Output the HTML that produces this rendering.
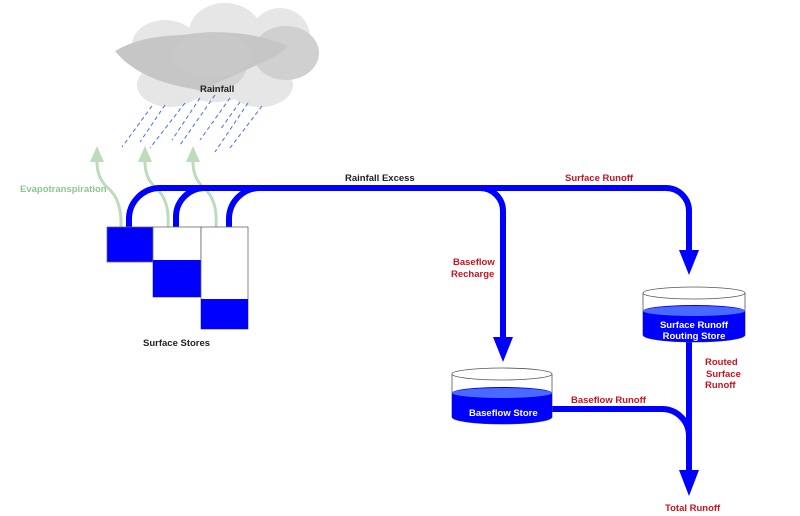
<!DOCTYPE html>
<html><head><style>body{margin:0;background:#fff}svg{display:block}text{font-family:"Liberation Sans",sans-serif;font-weight:bold;font-size:9.5px}</style></head><body>
<svg width="800" height="516" viewBox="0 0 800 516">
<!-- cloud -->
<g fill="#e6e6e6">
<ellipse cx="225" cy="32" rx="36" ry="29"/><ellipse cx="280" cy="37" rx="30" ry="29"/><ellipse cx="165" cy="45" rx="33" ry="25"/>
<ellipse cx="170" cy="85" rx="33" ry="22"/><ellipse cx="260" cy="85" rx="33" ry="22"/><ellipse cx="215" cy="80" rx="40" ry="22"/>
</g>
<ellipse cx="286" cy="53" rx="33" ry="27" fill="#d0d0d0"/>
<ellipse cx="210" cy="62" rx="38" ry="30" fill="#d4d4d4"/>
<path d="M115 51 Q140 36 182 35 Q240 26 288 46 L276 56 Q230 78 200 90 Q140 82 115 51Z" fill="#c6c6c6"/>
<ellipse cx="212" cy="55" rx="40" ry="22" fill="#c8c8c8"/>
<text x="200" y="92" fill="#222">Rainfall</text>
<!-- rain -->
<g stroke="#4a6fe0" stroke-width="1" stroke-dasharray="4,3">
<line x1="152" y1="106" x2="122" y2="147"/><line x1="165" y1="105" x2="140" y2="142"/><line x1="185" y1="103" x2="150" y2="148"/>
<line x1="200" y1="98" x2="172" y2="140"/><line x1="215" y1="95" x2="180" y2="145"/><line x1="230" y1="98" x2="200" y2="140"/>
<line x1="248" y1="103" x2="215" y2="152"/><line x1="262" y1="106" x2="230" y2="148"/><line x1="240" y1="102" x2="220" y2="130"/>
</g>
<!-- evap arrows -->
<g fill="none" stroke="#bcdcbc" stroke-width="3">
<path d="M121 227 Q122 200 108 188 Q96 178 97 158"/><path d="M168 227 Q170 200 156 188 Q144 178 145 158"/><path d="M216 227 Q218 200 204 188 Q192 178 193 158"/>
</g>
<g fill="#bcdcbc"><path d="M97 146 L90 162 L104 162Z"/><path d="M145 146 L138 162 L152 162Z"/><path d="M193 146 L186 162 L200 162Z"/></g>
<text x="20" y="192" fill="#8cc88c">Evapotranspiration</text>
<!-- blue flows -->
<g fill="none" stroke="#0000ff" stroke-width="6">
<path d="M129 227 L129 218 A31 31 0 0 1 160 188 L480 188 A23 23 0 0 1 503 211 L503 340"/>
<path d="M176 227 L176 218 A29 29 0 0 1 205 188"/>
<path d="M229 227 L229 218 A31 31 0 0 1 260 188"/>
<path d="M480 188 L666 188 A23 23 0 0 1 689 211 L689 255"/>
<path d="M552 409 L662 409 A27 27 0 0 1 689 436"/>
<path d="M689 341 L689 475"/>
</g>
<g fill="#0000ff"><path d="M493 337 L513 337 L503 362Z"/><path d="M679 250 L699 250 L689 275Z"/><path d="M679 470 L699 470 L689 496Z"/></g>
<!-- surface stores -->
<rect x="107" y="227" width="46" height="35" fill="#0000ff" stroke="#666" stroke-width="0.8"/>
<rect x="153" y="227" width="48" height="70" fill="#fff" stroke="#666" stroke-width="0.8"/>
<rect x="153" y="260" width="48" height="37" fill="#0000ff"/>
<rect x="201" y="227" width="47" height="102" fill="#fff" stroke="#666" stroke-width="0.8"/>
<rect x="201" y="299" width="47" height="30" fill="#0000ff"/>
<text x="143" y="346" fill="#222">Surface Stores</text>
<!-- labels -->
<text x="345" y="181" fill="#222">Rainfall Excess</text>
<text x="565" y="181" fill="#c8141e">Surface Runoff</text>
<text x="453" y="265" fill="#c8141e">Baseflow</text><text x="451" y="277" fill="#c8141e">Recharge</text>
<!-- baseflow store -->
<path d="M452 374 L452 417 A50 7 0 0 0 552 417 L552 374" fill="#fff" stroke="#555" stroke-width="0.8"/>
<path d="M452 393 A50 6 0 0 1 552 393 L552 417 A50 7 0 0 1 452 417Z" fill="#0000ff"/>
<ellipse cx="502" cy="393" rx="50" ry="5" fill="#4a6aff"/>
<ellipse cx="502" cy="374" rx="50" ry="6" fill="none" stroke="#555" stroke-width="0.8"/>
<text x="469" y="416" fill="#fff">Baseflow Store</text>
<text x="571" y="403" fill="#c8141e">Baseflow Runoff</text>
<!-- routing store -->
<path d="M643 293 L643 335 A51 7 0 0 0 745 335 L745 293" fill="#fff" stroke="#555" stroke-width="0.8"/>
<path d="M643 311 A51 6 0 0 1 745 311 L745 335 A51 7 0 0 1 643 335Z" fill="#0000ff"/>
<ellipse cx="694" cy="311" rx="51" ry="5" fill="#4a6aff"/>
<ellipse cx="694" cy="293" rx="51" ry="6" fill="none" stroke="#555" stroke-width="0.8"/>
<text x="694" y="328" fill="#fff" text-anchor="middle">Surface Runoff</text>
<text x="694" y="339" fill="#fff" text-anchor="middle">Routing Store</text>
<text x="705" y="365" fill="#c8141e">Routed</text><text x="706" y="377" fill="#c8141e">Surface</text><text x="705" y="388" fill="#c8141e">Runoff</text>
<text x="665" y="511" fill="#c8141e">Total Runoff</text>
</svg>
</body></html>
